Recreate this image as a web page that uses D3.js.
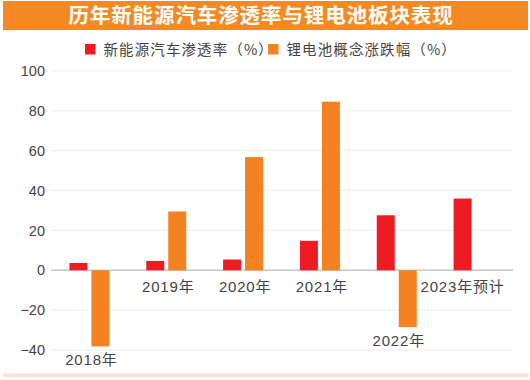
<!DOCTYPE html>
<html><head><meta charset="utf-8">
<script src="https://cdn.jsdelivr.net/npm/d3@7"></script>
<style>
html,body{margin:0;padding:0;background:#fff;}
svg{display:block;font-family:"Noto Sans CJK SC","Noto Sans",sans-serif;text-spacing-trim:space-all;}
</style></head>
<body><svg id="chart" width="530" height="380"></svg>
<script>
const title = "历年新能源汽车渗透率与锂电池板块表现";
const categories = ["2018年","2019年","2020年","2021年","2022年","2023年预计"];
const seriesNames = ["新能源汽车渗透率（%）","锂电池概念涨跌幅（%）"];
const penetration = [3.7, 4.7, 5.4, 14.8, 27.6, 36.0];
const batteryChange = [-38.2, 29.5, 56.8, 84.6, -28.5, null];
const yTicks = [100, 80, 60, 40, 20, 0, -20, -40];
const colors = ["#ED1C24", "#F58220"];
const numFont = "\"Liberation Sans\",\"Noto Sans CJK SC\",sans-serif";

const svg = d3.select("#chart");
// title bar
svg.append("rect").attr("x",3).attr("y",1).attr("width",525).attr("height",29).attr("fill","#F58A24");
svg.append("text").attr("x",261).attr("y",23).attr("text-anchor","middle")
  .attr("fill","#fff").attr("font-size",20.5).attr("font-weight","bold").attr("letter-spacing",0.9).text(title);

// legend
const legendX = [85, 268];
seriesNames.forEach((n,i)=>{
  svg.append("rect").attr("x",legendX[i]).attr("y",44).attr("width",10.5).attr("height",10.5).attr("fill",colors[i]);
  svg.append("text").attr("x",legendX[i]+18.5).attr("y",54.5).attr("font-size",14.5)
    .attr("letter-spacing",1.1).attr("fill","#444").text(n);
});

const y = d3.scaleLinear().domain([-40,100]).range([350,71]);
const x = d3.scaleBand().domain(categories).range([51,512]);
const bw = 18, gap = 4;

// grid
svg.append("g").selectAll("line").data(yTicks).join("line")
  .attr("x1",51).attr("x2",513).attr("y1",d=>y(d)).attr("y2",d=>y(d))
  .attr("stroke",d=>d===0?"#c8c8c8":"#eeeeee").attr("stroke-width",d=>d===0?1.5:1);

// y axis
const yAxis = d3.axisLeft(y).tickValues(yTicks).tickSize(0).tickPadding(0)
  .tickFormat(d=>d<0?"\u2212"+Math.abs(d):d);
const ga = svg.append("g").attr("transform","translate(45,0)").call(yAxis);
ga.select(".domain").remove();
ga.selectAll("text").attr("font-size",14.5).attr("fill","#444").attr("font-family",numFont);

// bars
const cx = c => x(c) + x.bandwidth()/2;
const g = svg.append("g");
g.selectAll("rect.s0").data(categories).join("rect").attr("class","s0")
  .attr("x",c=>cx(c)-gap/2-bw).attr("width",bw)
  .attr("y",(c,i)=>y(Math.max(0,penetration[i]))).attr("height",(c,i)=>Math.abs(y(penetration[i])-y(0)))
  .attr("fill",colors[0]);
g.selectAll("rect.s1").data(categories.filter((c,i)=>batteryChange[i]!==null)).join("rect").attr("class","s1")
  .attr("x",c=>cx(c)+gap/2).attr("width",bw)
  .attr("y",c=>{const v=batteryChange[categories.indexOf(c)];return y(Math.max(0,v));})
  .attr("height",c=>{const v=batteryChange[categories.indexOf(c)];return Math.abs(y(v)-y(0));})
  .attr("fill",colors[1]);

// category labels
svg.append("g").selectAll("text").data(categories).join("text")
  .attr("x",(c,i)=>batteryChange[i]===null ? cx(c)-gap/2-bw/2 : cx(c)+2)
  .attr("y",(c,i)=>{const v=batteryChange[i];return (v!==null&&v<0)? y(v)+19 : y(0)+22;})
  .attr("text-anchor","middle").attr("font-size",15).attr("letter-spacing",0.8)
  .attr("font-family",numFont).attr("fill","#444").text(c=>c);

// bottom line
svg.append("rect").attr("x",3).attr("y",373.5).attr("width",526).attr("height",3.5).attr("fill","#FDE3CB");
</script></body></html>
